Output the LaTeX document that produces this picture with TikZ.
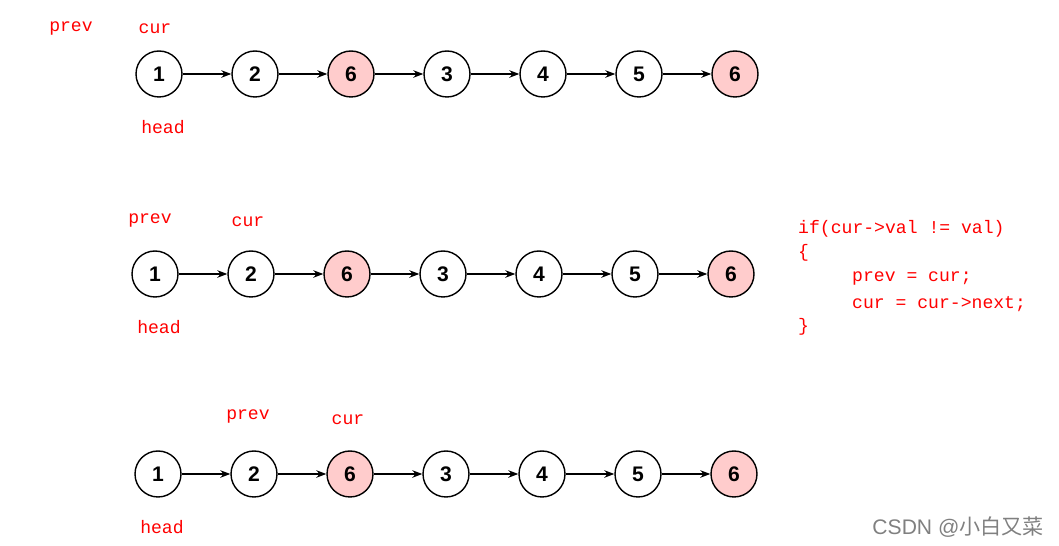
\documentclass[tikz,border=0pt]{standalone}
\usepackage{fontspec}
\setmainfont{Liberation Sans}
\newfontfamily\codefont{Liberation Mono}
\newfontfamily\cjk{Noto Sans CJK SC}
\usetikzlibrary{arrows.meta}
\begin{document}
\begin{tikzpicture}[
        x=0.02cm, y=-0.02cm,
        lnode/.style={circle, draw, thick, minimum size=0.92cm, inner sep=0pt, font=\bfseries\large},
        dup/.style={lnode, fill=red!20},
        ptr/.style={text=red, font=\codefont\fontsize{10.3}{12}\selectfont},
        link/.style={-{Stealth[length=2mm]}, thick}
    ]
      \useasboundingbox (0,0) rectangle (1059,546);
      % three rows of the list
      \foreach \r/\x/\y in {a/159/74, b/155/274, c/158/474} {
        \foreach \v [count=\i] in {1,2,6,3,4,5,6} {
          \ifnum\v=6
            \node[dup] (\r\i) at ({\x+96*(\i-1)},\y) {\v};
          \else
            \node[lnode] (\r\i) at ({\x+96*(\i-1)},\y) {\v};
          \fi
        }
        \foreach \i [evaluate=\i as \j using int(\i+1)] in {1,...,6}
          \draw[link] (\r\i) -- (\r\j);
      }
      % pointers
      \node[ptr] (prevA) at (71,29) {prev};
      \node[ptr] (curA) at (155,29) {cur};
      \node[ptr] (headA) at (163,127) {head};
      \node[ptr] (prevB) at (150,221) {prev};
      \node[ptr] (curB) at (248,222) {cur};
      \node[ptr] (headB) at (159,327) {head};
      \node[ptr] (prevC) at (248,417) {prev};
      \node[ptr] (curC) at (348,420) {cur};
      \node[ptr] (headC) at (162,527) {head};
      % code
      \node[ptr, anchor=west] (code1) at (792,229) {if(cur->val != val)};
      \node[ptr, anchor=west] (code2) at (792,253) {\{};
      \node[ptr, anchor=west] (code3) at (846,279) {prev = cur;};
      \node[ptr, anchor=west] (code4) at (846,304) {cur = cur->next;};
      \node[ptr, anchor=west] (code5) at (792,327) {\}};
      \node[text=gray, font=\large, anchor=east] (mark) at (1050,527) {CSDN @{\cjk 小白又菜}};
\end{tikzpicture}
\end{document}
